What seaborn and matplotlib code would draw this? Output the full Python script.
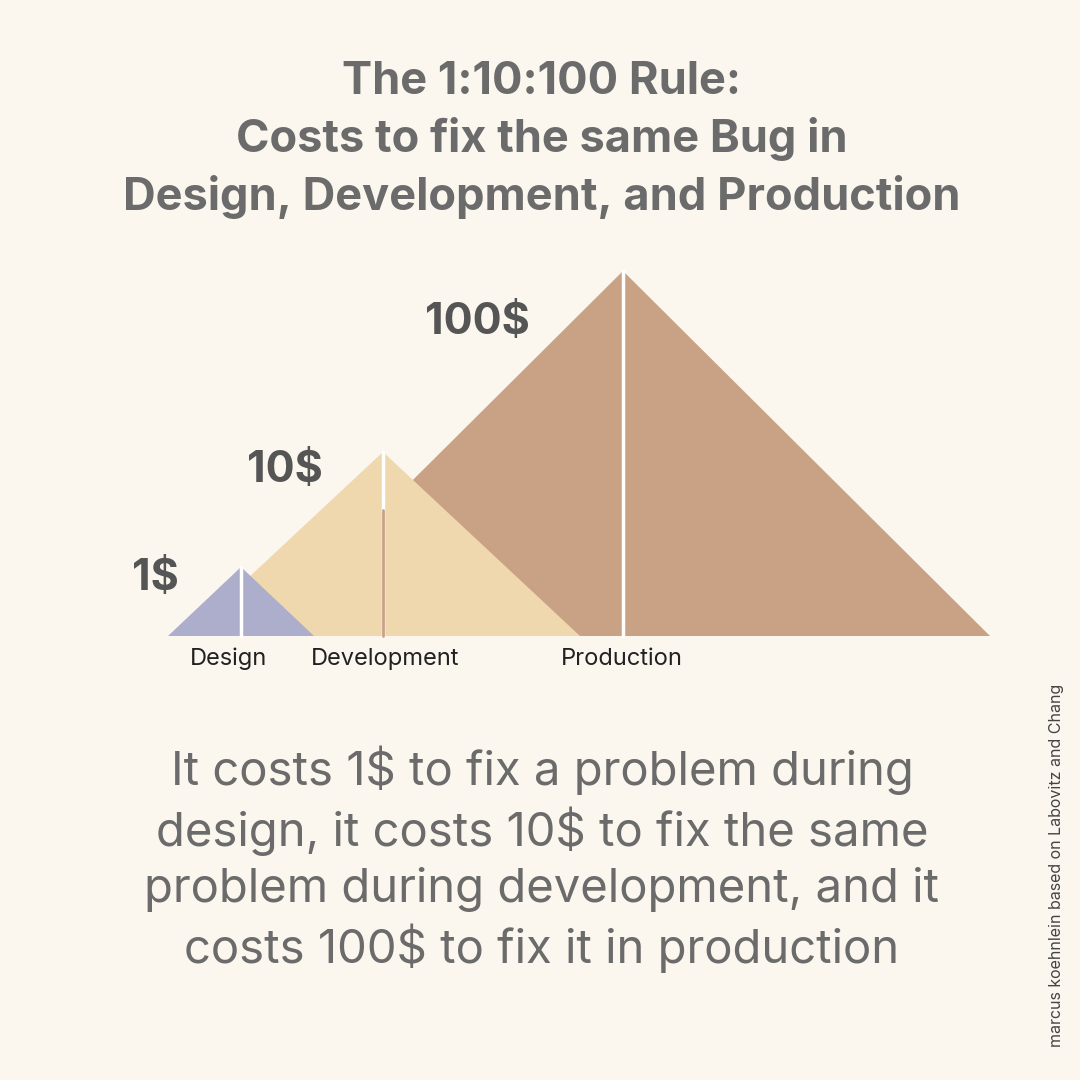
import matplotlib
matplotlib.use("Agg")
import matplotlib.pyplot as plt
import seaborn as sns

# data
stages = ["Design", "Development", "Production"]
costs = ["1$", "10$", "100$"]
centers = [241, 383, 623]
heights = [69, 184, 365]
half_widths = [73, 197, 367]
colors = ["#ADADCC", "#EFD7AE", "#C9A286"]
base_y = 636

sns.set_theme(style="white", rc={"font.family": "Inter"})
bg = "#FBF7EE"
fig = plt.figure(figsize=(10.8, 10.8), dpi=100, facecolor=bg)
ax = fig.add_axes([0, 0, 1, 1])
ax.set_facecolor(bg)
ax.set_xlim(0, 1080)
ax.set_ylim(1080, 0)
ax.axis("off")

# draw largest first so smaller ones sit in front
for i in reversed(range(len(stages))):
    c, h, w = centers[i], heights[i], half_widths[i]
    ax.fill([c - w, c, c + w], [base_y, base_y - h, base_y], color=colors[i], lw=0)
    ax.plot([c, c], [base_y - h, base_y], color="white", lw=2.5)
ax.plot([centers[1], centers[1]], [510, base_y], color="#C9A286", lw=2)

label_pos = [(155, 578), (285, 470), (477, 323)]
for (x, y), t in zip(label_pos, costs):
    ax.text(x, y, t, ha="center", va="center", fontsize=31, fontweight="bold", color="#555555")
stage_x = [228, 385, 622]
for x, s in zip(stage_x, stages):
    ax.text(x, 659, s, ha="center", va="center", fontsize=17, color="#222222")

title = "The 1:10:100 Rule:\nCosts to fix the same Bug in\nDesign, Development, and Production"
ax.text(542, 140, title, ha="center", va="center", fontsize=32.5, fontweight="bold",
        color="#6B6B6B", linespacing=1.4)

body = ("It costs 1$ to fix a problem during\ndesign, it costs 10$ to fix the same\n"
        "problem during development, and it\ncosts 100$ to fix it in production")
ax.text(542, 859, body, ha="center", va="center", fontsize=34, color="#6B6B6B", linespacing=1.3)

ax.text(1057, 865, "marcus koehnlein based on Labovitz and Chang", rotation=90,
        ha="center", va="center", fontsize=11.5, color="#444444")

fig.savefig("out.png", dpi=100, facecolor=bg)
